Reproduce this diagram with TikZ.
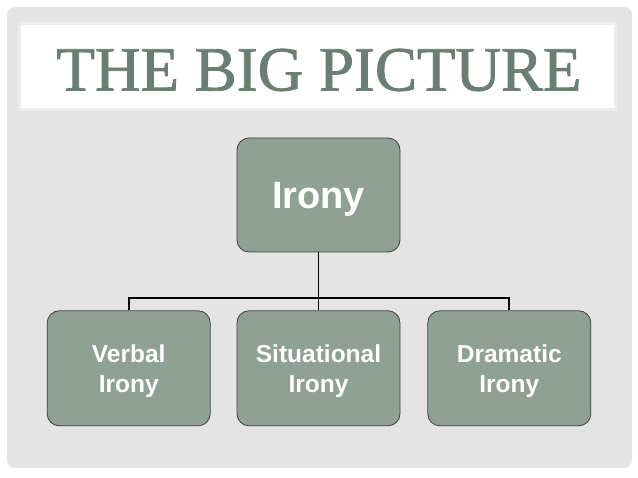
\documentclass[tikz,border=0pt]{standalone}
\usepackage{fontspec}
\setmainfont{Liberation Serif}
\newfontfamily\titlefont[FakeBold=1.3]{Liberation Serif}
\newfontfamily\boxfont{Liberation Sans}
\usetikzlibrary{positioning}
\definecolor{slidegray}{HTML}{E4E4E4}
\definecolor{titlegreen}{HTML}{6A7E71}
\definecolor{boxgreen}{HTML}{8FA095}
\tikzset{
    %Define style for boxes
    topbox/.style={
           rectangle,
           rounded corners=12pt,
           draw=black!75, line width=0.8pt,
           minimum width=163pt,
           minimum height=114pt,
           font=\boxfont\bfseries\fontsize{38}{44}\selectfont,
           text depth=0pt,
           text=white,
           text centered,
           fill=boxgreen},
    kindbox/.style={
           topbox,
           minimum height=115pt,
           align=center,
           font=\boxfont\bfseries\fontsize{24.5}{30}\selectfont},
    % Define connector style
    branch/.style={
           draw=black,
           line width=1.8pt}
}
\begin{document}
\begin{tikzpicture}[x=1pt,y=-1pt,node distance=58pt]
\useasboundingbox (0,0) rectangle (638,478);
% slide background
\fill[slidegray, rounded corners=8pt] (7,7) rectangle (632,468);
\fill[white] (18,22) rectangle (617,111);
\draw[white!93!black, line width=3pt] (19.5,23.5) rectangle (615.5,109.5);
\node[text=titlegreen, font=\titlefont\fontsize{63}{70}\selectfont] (title) at (319,70) {THE BIG PICTURE};
% chart
\node[topbox] (irony) at (318.5,195) {Irony};
\node[kindbox, below=of irony] (situational) {Situational\\Irony};
\node[kindbox, left=26pt of situational] (verbal) {Verbal\\Irony};
\node[kindbox, right=27pt of situational] (dramatic) {Dramatic\\Irony};
\coordinate[below=46pt of irony.south] (fork);
\path[branch]
	(irony.south) -- (fork)
	(fork) -| (verbal.north)
	(fork) -- (situational.north)
	(fork) -| (dramatic.north);
\end{tikzpicture}
\end{document}
